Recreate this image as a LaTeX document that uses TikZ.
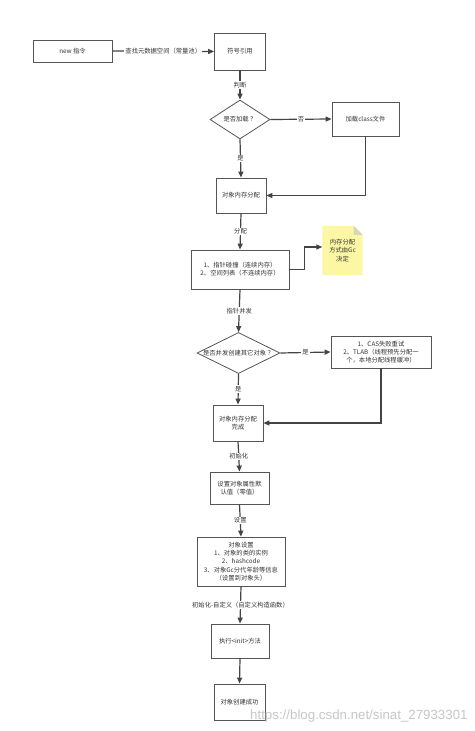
\documentclass[tikz,border=0pt]{standalone}
\usepackage{fontspec}
\setmainfont{Noto Sans CJK SC}
\newfontfamily\wmfont{Liberation Sans}
\usetikzlibrary{shapes.geometric,arrows.meta,calc}
\definecolor{linec}{HTML}{444444}
\definecolor{boxc}{HTML}{555555}
\definecolor{notey}{HTML}{FCF7A2}
\definecolor{foldc}{HTML}{D8D5B8}
\begin{document}
\begin{tikzpicture}[x=1pt,y=-1pt,
  every node/.style={font=\fontsize{6.3}{8.2}\selectfont, text=black!80},
  box/.style={draw=boxc, line width=0.8pt, fill=white, align=center, inner sep=1pt},
  dia/.style={draw=boxc, line width=0.8pt, fill=white, diamond, inner sep=0pt},
  arr/.style={draw=linec, line width=1.2pt, -{Triangle[length=6pt,width=5pt]}},
  lbl/.style={fill=white, inner sep=1pt}]
\useasboundingbox (0,0) rectangle (474,731);
\fill[white] (0,0) rectangle (474,731);

\node[box, minimum width=79, minimum height=22] (new) at (72.5,51) {new 指令};
\node[box, minimum width=51, minimum height=37] (sym) at (240,51.5) {符号引用};
\node[dia, minimum width=60, minimum height=39, label={center:是否加载 ？}] (d1) at (240,119.5) {};
\node[box, minimum width=67, minimum height=34] (cls) at (365.5,119) {加载class文件};
\node[box, minimum width=50, minimum height=35] (alloc) at (241,195.5) {对象内存分配};
\node[box, minimum width=98, minimum height=39] (ptr) at (240,269.5) {1、指针碰撞（连续内存）\\2、空间列表（不连续内存）};
\node[minimum width=40, minimum height=49, inner sep=0pt] (note) at (342.5,250.5) {};
\fill[notey] (note.north west) -- ([xshift=-9pt]note.north east) -- ([yshift=-9pt]note.north east) -- (note.south east) -- (note.south west) -- cycle;
\fill[foldc] ([xshift=-9pt]note.north east) -- ([yshift=-9pt]note.north east) -- ([xshift=-9pt,yshift=-9pt]note.north east) -- cycle;
\node[align=center, inner sep=0pt] (notetxt) at (note.center) {内存分配\\方式由Gc\\决定};
\node[dia, minimum width=83, minimum height=41, label={center:是否并发创建其它对象 ？}] (d2) at (238.5,353) {};
\node[box, minimum width=98, minimum height=32, text width=98pt] (cas) at (381,352) {1、CAS失败重试\\2、TLAB（线程预先分配一\\个，本地分配线程缓冲）};
\node[box, minimum width=50, minimum height=36] (done) at (238,423) {对象内存分配\\完成};
\node[box, minimum width=59, minimum height=32] (zero) at (239.5,488) {设置对象属性默\\认值（零值）};
\node[box, minimum width=88, minimum height=49] (set) at (241,561.5) {对象设置\\1、对象的类的实例\\2、hashcode\\3、对象Gc分代年龄等信息\\（设置到对象头）};
\node[box, minimum width=58, minimum height=34] (init) at (240,641) {执行<init>方法};
\node[box, minimum width=51, minimum height=36] (ok) at (239.5,702) {对象创建成功};

\draw[arr] (new.east) -- node[lbl] {查找元数据空间（常量池）} (sym.west);
\draw[arr] (sym.south) -- node[lbl] {判断} (d1.north);
\draw[arr] (d1.east) -- node[lbl] {否} (cls.west);
\draw[arr] (cls.south) |- (alloc.east);
\draw[arr] (d1.south) -- node[lbl] {是} (alloc.north);
\draw[arr] (alloc.south) -- node[lbl] {分配} (ptr.north);
\draw[arr] (ptr.east) -- ++(15,0) |- ([yshift=3.5pt]note.west);
\draw[arr] (ptr.south) -- node[lbl] {指针并发} (d2.north);
\draw[arr] (d2.east) -- node[lbl] {是} (cas.west);
\draw[arr] (cas.south) |- (done.east);
\draw[arr] (d2.south) -- node[lbl] {是} (done.north);
\draw[arr] (done.south) -- node[lbl] {初始化} (zero.north);
\draw[arr] (zero.south) -- node[lbl] {设置} (set.north);
\draw[arr] (set.south) -- node[lbl] {初始化-自定义（自定义构造函数）} (init.north);
\draw[arr] (init.south) -- (ok.north);

\node[font=\wmfont\fontsize{13.3}{15}\selectfont, text=black!22, anchor=west, inner sep=0pt] (wm) at (250,716) {https://blog.csdn.net/sinat\_27933301};
\end{tikzpicture}
\end{document}
